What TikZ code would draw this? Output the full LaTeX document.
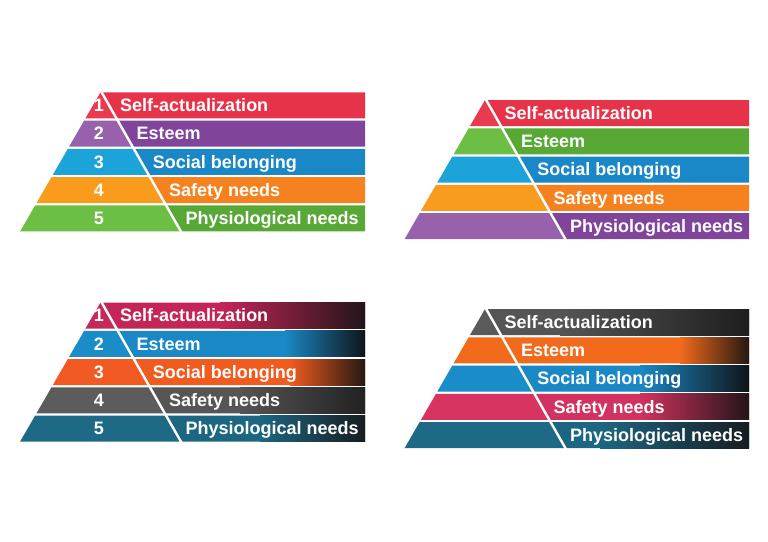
\documentclass[tikz,border=0pt]{standalone}
\usepackage{fontspec}
\setmainfont{Liberation Sans}
\definecolor{redL}{HTML}{E93A4E}
\definecolor{redR}{HTML}{E7334A}
\definecolor{purL}{HTML}{9762AB}
\definecolor{purR}{HTML}{80449B}
\definecolor{bluL}{HTML}{1CA4DA}
\definecolor{bluR}{HTML}{1A88C6}
\definecolor{orgL}{HTML}{F99B1C}
\definecolor{orgR}{HTML}{F6821F}
\definecolor{grnL}{HTML}{6DBE45}
\definecolor{grnR}{HTML}{58A835}
% dark variants
\definecolor{crmL}{HTML}{C7285C}
\definecolor{crmR}{HTML}{C42559}
\definecolor{crmE}{HTML}{231519}
\definecolor{dbL}{HTML}{1A8DC9}
\definecolor{dbR}{HTML}{1A88C4}
\definecolor{dbE}{HTML}{101418}
\definecolor{doL}{HTML}{F15A22}
\definecolor{doR}{HTML}{F05B1F}
\definecolor{doE}{HTML}{241812}
\definecolor{gyL}{HTML}{5C5C5C}
\definecolor{gyR}{HTML}{555555}
\definecolor{gyE}{HTML}{222222}
\definecolor{tlL}{HTML}{1E6A86}
\definecolor{tlR}{HTML}{1C6682}
\definecolor{tlE}{HTML}{171D21}
\definecolor{cr4L}{HTML}{D73462}
\definecolor{cr4R}{HTML}{D13260}
\definecolor{or4L}{HTML}{F26A1B}
\definecolor{gy4L}{HTML}{5A5A5A}
\definecolor{gy4R}{HTML}{555555}
\definecolor{gy4E}{HTML}{1E1E1E}
\colorlet{shL}{red}
\colorlet{shR}{black}
\pgfdeclarehorizontalshading[shL,shR]{fadeLR}{100bp}{color(0bp)=(shL); color(25bp)=(shL); color(75bp)=(shR); color(100bp)=(shR)}
\newcommand\pyrk{0.578}
\newcommand\pyrh{26}
\newcommand\pyrp{28.25}
\newcommand\pyrdraw[6]{%
 \foreach \i/\cl/\cr/\ce/\xs/\txt in {#6}{
   \pgfmathsetmacro\yt{#2+\i*\pyrp}
   \pgfmathsetmacro\yb{\yt+\pyrh}
   \pgfmathsetmacro\ym{\yt+\pyrh/2}
   \pgfmathsetmacro\xlt{#1-\pyrk*(\yt-#2)}
   \pgfmathsetmacro\xlb{#1-\pyrk*(\yb-#2)}
   \pgfmathsetmacro\xdt{#1+\pyrk*(\yt-#2)}
   \pgfmathsetmacro\xdb{#1+\pyrk*(\yb-#2)}
   \pgfmathsetmacro\xdm{#1+\pyrk*(\ym-#2)}
   \fill[\cl] (\xlt,\yt) -- (\xdt,\yt) -- (\xdb,\yb) -- (\xlb,\yb) -- cycle;
   \fill[\cr] (\xdt,\yt) -- (#3,\yt) -- (#3,\yb) -- (\xdb,\yb) -- cycle;
   \ifdim\xs pt>0pt
     \colorlet{shL}{\cr}\colorlet{shR}{\ce}%
     \shade[shading=fadeLR] (\xs,\yt) rectangle (#3,\yb);
   \fi
   \node[lbl, anchor=base west] (#4t\i) at (\xdm+12,\ym+6.4) {\txt};
   \ifnum#5=1 \node[lbl, anchor=base] (#4n\i) at (#1-1.5,\ym+6.4) {\the\numexpr\i+1\relax};\fi
 }
 \draw[white,line width=2.4pt] (#1,#2-2) -- ({#1+\pyrk*(4*\pyrp+\pyrh+2)},{#2+4*\pyrp+\pyrh+2});
}
\tikzset{lbl/.style={text=white, inner sep=0pt, font=\fontsize{18}{18}\selectfont\bfseries}}
\begin{document}
\begin{tikzpicture}[x=1pt,y=-1pt]
\useasboundingbox[fill=white] (0,0) rectangle (768,541);
\pyrdraw{100.5}{92.3}{365}{a}{1}{0/redL/redR/redR/0/Self-actualization,
 1/purL/purR/purR/0/Esteem,
 2/bluL/bluR/bluR/0/Social belonging,
 3/orgL/orgR/orgR/0/Safety needs,
 4/grnL/grnR/grnR/0/Physiological needs}
\pyrdraw{485}{100}{749}{b}{0}{0/redL/redR/redR/0/Self-actualization,
 1/grnL/grnR/grnR/0/Esteem,
 2/bluL/bluR/bluR/0/Social belonging,
 3/orgL/orgR/orgR/0/Safety needs,
 4/purL/purR/purR/0/Physiological needs}
\pyrdraw{100.5}{302.5}{365}{c}{1}{0/crmL/crmR/crmE/220/Self-actualization,
 1/dbL/dbR/dbE/285/Esteem,
 2/doL/doR/doE/290/Social belonging,
 3/gyL/gyR/gyE/240/Safety needs,
 4/tlL/tlR/tlE/260/Physiological needs}
\pyrdraw{485}{309}{749}{d}{0}{0/gy4L/gy4R/gy4E/560/Self-actualization,
 1/or4L/or4L/doE/680/Esteem,
 2/dbL/dbR/dbE/640/Social belonging,
 3/cr4L/cr4R/crmE/640/Safety needs,
 4/tlL/tlR/tlE/600/Physiological needs}
\end{tikzpicture}
\end{document}
